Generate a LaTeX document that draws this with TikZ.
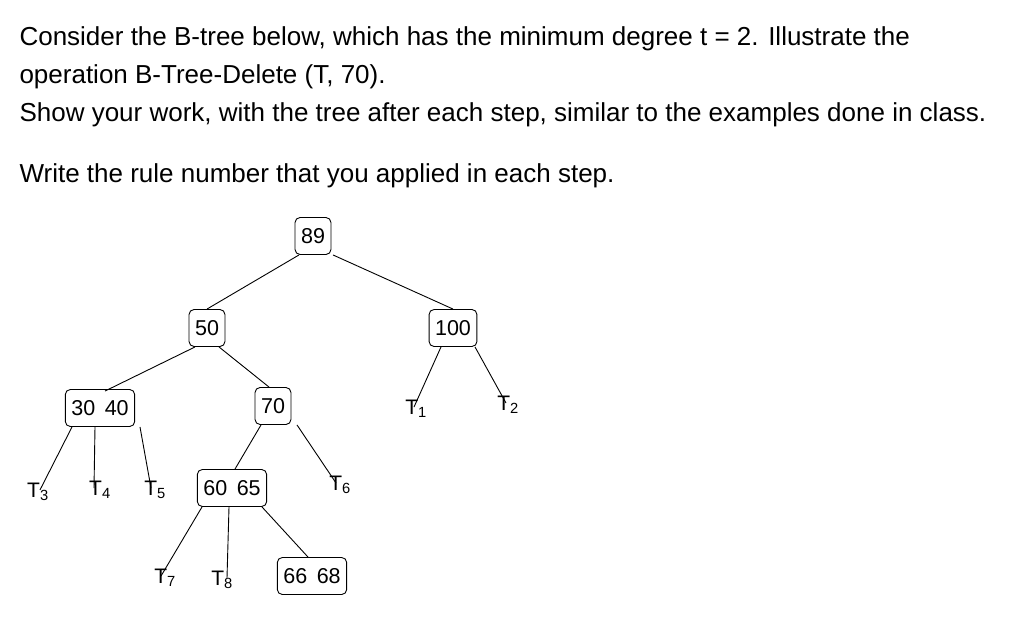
\documentclass[tikz,border=0pt]{standalone}
\usepackage{fontspec}
\setmainfont{Liberation Sans}
\begin{document}
\begin{tikzpicture}[x=1pt,y=-1pt,
  key/.style={draw,rounded corners=5pt,line width=0.9pt,minimum height=37pt,inner xsep=6pt,font=\fontsize{21.5}{24}\selectfont},
  lab/.style={font=\fontsize{21}{24}\selectfont,inner sep=1pt},
  txt/.style={anchor=west,font=\fontsize{26}{30}\selectfont},
  ed/.style={line width=0.9pt}]
\useasboundingbox (0,0) rectangle (1027,621);
\node[txt] (t1) at (16,39) {Consider the B-tree below, which has the minimum degree t = 2. Illustrate the};
\node[txt] (t2) at (16,77) {operation B-Tree-Delete (T, 70).};
\node[txt] (t3) at (16,115) {Show your work, with the tree after each step, similar to the examples done in class.};
\node[txt] (t4) at (16,176) {Write the rule number that you applied in each step.};
\node[key] (n89) at (313,236) {89};
\node[key] (n50) at (207,328) {50};
\node[key] (n100) at (453,328) {100};
\node[key] (n3040) at (100,408) {30\ \,40};
\node[key] (n70) at (273,406) {70};
\node[key] (n6065) at (232,488) {60\ \,65};
\node[key] (n6668) at (312,576) {66\ \,68};
\node[lab] (T1) at (416,409) {T\textsubscript{1}};
\node[lab] (T2) at (508,405) {T\textsubscript{2}};
\node[lab] (T3) at (38,492) {T\textsubscript{3}};
\node[lab] (T4) at (100,490) {T\textsubscript{4}};
\node[lab] (T5) at (155,490) {T\textsubscript{5}};
\node[lab] (T6) at (340,485) {T\textsubscript{6}};
\node[lab] (T7) at (165,578) {T\textsubscript{7}};
\node[lab] (T8) at (222,580) {T\textsubscript{8}};
\draw[ed] ([xshift=-14pt]n89.south) -- (n50.north);
\draw[ed] ([xshift=20pt]n89.south) -- (n100.north);
\draw[ed] ([xshift=-12pt]n50.south) -- ([xshift=5pt,yshift=-2pt]n3040.north);
\draw[ed] ([xshift=12pt]n50.south) -- ([xshift=-4pt]n70.north);
\draw[ed] ([xshift=-12pt]n100.south) -- ([xshift=-2pt,yshift=-8pt]T1.north);
\draw[ed] ([xshift=22pt]n100.south) -- ([xshift=-2pt,yshift=-8pt]T2.north);
\draw[ed] ([xshift=-28pt]n3040.south) -- ([xshift=2pt,yshift=-8pt]T3.north);
\draw[ed] ([xshift=-5pt]n3040.south) -- ([xshift=-6pt,yshift=-8pt]T4.north);
\draw[ed] ([xshift=40pt]n3040.south) -- ([xshift=-4pt,yshift=-8pt]T5.north);
\draw[ed] ([xshift=-12pt]n70.south) -- ([xshift=3pt]n6065.north);
\draw[ed] ([xshift=24pt]n70.south) -- ([xshift=-4pt,yshift=-8pt]T6.north);
\draw[ed] ([xshift=-30pt]n6065.south) -- ([xshift=-4pt,yshift=-8pt]T7.north);
\draw[ed] ([xshift=-3pt]n6065.south) -- ([xshift=5pt,yshift=-8pt]T8.north);
\draw[ed] ([xshift=30pt]n6065.south) -- ([xshift=-4pt]n6668.north);
\end{tikzpicture}
\end{document}
